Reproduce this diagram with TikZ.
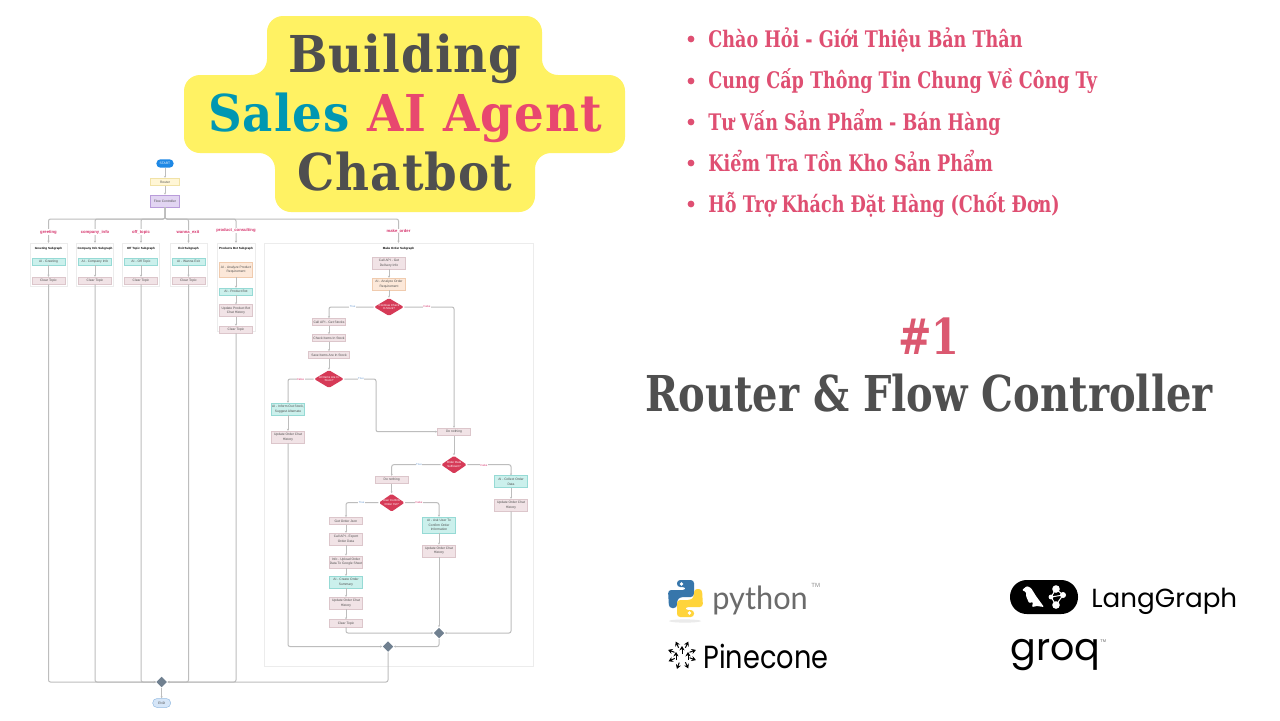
\documentclass[tikz,border=0pt]{standalone}
\usepackage{fontspec}
\setmainfont{Liberation Serif}
\setsansfont{Liberation Sans}
\newfontfamily\bannerfont[FakeStretch=.92,LetterSpace=2]{DejaVu Serif Bold}
\newfontfamily\listfont[FakeStretch=.77]{DejaVu Serif Bold}
\newfontfamily\topicfont[FakeStretch=.81]{DejaVu Serif Bold}
\newfontfamily\logofont{Poppins}
\newfontfamily\pinefont[FakeStretch=.85]{Poppins}
\newfontfamily\thinfont[FakeStretch=.96]{Lato}
\usetikzlibrary{positioning,shapes.geometric,calc,arrows.meta}

\definecolor{banner}{HTML}{FFF263}
\definecolor{inkgray}{HTML}{4F4F4F}
\definecolor{tealword}{HTML}{0097B2}
\definecolor{pinkword}{HTML}{E8486F}
\definecolor{listpink}{HTML}{DF4F72}
\definecolor{numpink}{HTML}{DB5870}
\definecolor{wirecol}{HTML}{BDBDBD}
\definecolor{subline}{HTML}{ECECEC}
\definecolor{plainfill}{HTML}{F1E3E6}
\definecolor{plainline}{HTML}{DCC6CB}
\definecolor{aifill}{HTML}{CBF0EC}
\definecolor{ailine}{HTML}{96DAD5}
\definecolor{peachfill}{HTML}{FCE8D9}
\definecolor{peachline}{HTML}{F0CBAE}
\definecolor{checkred}{HTML}{D63A57}
\definecolor{mergefill}{HTML}{708090}
\definecolor{routepink}{HTML}{D6336C}
\definecolor{truecol}{HTML}{6C9BD2}
\definecolor{startblue}{HTML}{1E88E5}
\definecolor{endfill}{HTML}{D6E6F8}
\definecolor{endline}{HTML}{96BCE2}
\definecolor{yellowbox}{HTML}{FFF6D6}
\definecolor{yellowline}{HTML}{F1E2A6}
\definecolor{violetfill}{HTML}{E2D5F2}
\definecolor{violetline}{HTML}{B99CDA}
\definecolor{pyblue}{HTML}{3776AB}
\definecolor{pyyellow}{HTML}{FFD43B}

\newcommand{\tinytext}{\sffamily\fontsize{1.65}{2.2}\selectfont}
\tikzset{
	wire/.style={color=wirecol, line width=.5pt, rounded corners=1pt, -{Stealth[length=1pt,width=1pt]}},
	subbox/.style 2 args={rectangle, draw=subline, fill=white, line width=.25pt, minimum width=#1, minimum height=#2, inner sep=0pt},
	subtitle/.style={font=\sffamily\bfseries\fontsize{1.5}{2}\selectfont, text=black, inner sep=0pt},
	stepbox/.style={rectangle, draw=plainline, fill=plainfill, line width=.25pt, text=inkgray, font=\tinytext, align=center, minimum width=16.5pt, minimum height=#1, inner sep=0pt},
	stepbox/.default=3.6pt,
	aibox/.style={stepbox=#1, draw=ailine, fill=aifill},
	aibox/.default=3.6pt,
	peachbox/.style={stepbox=#1, draw=peachline, fill=peachfill},
	check/.style={diamond, fill=checkred, text=white, font=\sffamily\fontsize{1.45}{1.9}\selectfont, align=center, minimum width=#1, minimum height=9pt, inner xsep=-3pt, inner ysep=-1pt, rounded corners=.7pt},
	merge/.style={diamond, fill=mergefill, minimum size=5.4pt, inner sep=0pt},
	route/.style={font=\sffamily\bfseries\fontsize{2.1}{2.5}\selectfont, text=routepink, fill=white, inner sep=.3pt},
	yeslab/.style={font=\sffamily\fontsize{1.4}{1.8}\selectfont, text=truecol, fill=white, inner sep=.2pt},
	nolab/.style={font=\sffamily\fontsize{1.4}{1.8}\selectfont, text=routepink, fill=white, inner sep=.2pt},
	listitem/.style={anchor=base west, font=\listfont\fontsize{11.4}{14}\selectfont, text=listpink, inner sep=0pt},
	dot/.style={circle, fill=listpink, minimum size=3.4pt, inner sep=0pt},
	logotext/.style={anchor=base west, inner sep=0pt},
}

\begin{document}
\begin{tikzpicture}[x=.5pt, y=-.5pt, on grid, node distance=10pt]
	\useasboundingbox (0,0) rectangle (1280,720);
	\fill[white] (0,0) rectangle (1280,720);

	% banner
	\fill[banner, rounded corners=8pt] (267,16) -- (542,16) -- (542,75) -- (625,75) -- (625,153) -- (535,153) -- (535,212) -- (275,212) -- (275,153) -- (184,153) -- (184,75) -- (267,75) -- cycle;
	\node[anchor=base, inner sep=0pt, font=\bannerfont\fontsize{25.4}{30}\selectfont, text=inkgray] (t_building) at (405,72) {Building};
	\node[anchor=base, inner sep=0pt, font=\bannerfont\fontsize{25.4}{30}\selectfont] (t_sales) at (405,131) {\textcolor{tealword}{Sales} \textcolor{pinkword}{AI Agent}};
	\node[anchor=base, inner sep=0pt, font=\bannerfont\fontsize{25.4}{30}\selectfont, text=inkgray] (t_chatbot) at (405,190) {Chatbot};

	% right side
	\node[dot] (d_1) at (691,39) {};
	\node[dot] (d_2) at (691,81) {};
	\node[dot] (d_3) at (691,122) {};
	\node[dot] (d_4) at (691,163) {};
	\node[dot] (d_5) at (691,204) {};
	\node[listitem] (i_1) at (708,47) {Chào Hỏi - Giới Thiệu Bản Thân};
	\node[listitem] (i_2) at (708,88) {Cung Cấp Thông Tin Chung Về Công Ty};
	\node[listitem] (i_3) at (708,130) {Tư Vấn Sản Phẩm - Bán Hàng};
	\node[listitem] (i_4) at (708,171) {Kiểm Tra Tồn Kho Sản Phẩm};
	\node[listitem] (i_5) at (708,212) {Hỗ Trợ Khách Đặt Hàng (Chốt Đơn)};
	\node[anchor=base, inner sep=0pt, font=\topicfont\fontsize{24.7}{30}\selectfont, text=numpink] (t_num) at (929,354) {\#1};
	\node[anchor=base, inner sep=0pt, font=\topicfont\fontsize{24.7}{30}\selectfont, text=inkgray] (t_topic) at (929,411) {Router \& Flow Controller};

	% python logo
	\fill[black!8] (685,621) ellipse (8pt and .8pt);
	\fill[pyblue, rounded corners=1.6pt] (677,580) -- (694,580) -- (694,597) -- (680,597) -- (677,600) -- (677,608) -- (669,608) -- (668,590) -- (686,590) -- (686,587) -- (677,587) -- cycle;
	\fill[pyyellow, rounded corners=1.6pt] (694,617) -- (677,617) -- (677,600) -- (691,600) -- (694,597) -- (694,589) -- (702,589) -- (703,607) -- (685,607) -- (685,610) -- (694,610) -- cycle;
	\fill[white] (681.5,584) circle (.9pt) (689.5,613) circle (.9pt);
	\node[logotext, font=\thinfont\fontsize{16}{20}\selectfont, text=black!58] (l_python) at (712,609) {python};
	\node[logotext, font=\sffamily\fontsize{3}{4}\selectfont, text=black!45] (l_pytm) at (811,587) {TM};

	% pinecone logo
	\foreach \a in {20,65,115,160,205,250,295,340}
		\draw[-{Stealth[length=2.2pt,width=2.6pt]}, line width=.5pt] ($(682,655)+(\a:4pt)$) -- ($(682,655)+(\a:7.4pt)$);
	\foreach \p in {(682,654),(676,660),(688,660)}
		\draw[-{Stealth[length=2.2pt,width=2.6pt]}, line width=.5pt] \p -- ++(0,-8);
	\node[logotext, font=\pinefont\fontsize{16}{20}\selectfont] (l_pine) at (703,668) {Pinecone};

	% langgraph logo
	\fill[black, rounded corners=8.4pt] (1010,580) rectangle (1078,614);
	\fill[white, rounded corners=.5pt] (1022,590) -- (1027,586) -- (1031,588) -- (1036,596) -- (1044,607) -- (1037,606) -- (1032,607) -- (1033,602) -- (1029,603) -- (1026,596) -- (1026,592) -- cycle;
	\draw[white, line width=.5pt] (1056,589) -- (1063,595) -- (1056,605) -- (1051,597) -- (1056,589) (1051,597) -- (1063,595);
	\fill[white] (1056,589) circle (1.9pt) (1056,605) circle (1.9pt) (1063,595) circle (1.5pt) (1051,597) circle (1.2pt);
	\node[logotext, font=\logofont\fontsize{13.1}{16}\selectfont] (l_lang) at (1091,607) {LangGraph};

	% groq logo
	\node[logotext, font=\logofont\fontsize{19}{22}\selectfont] (l_groq) at (1010,660) {groq};
	\node[logotext, font=\sffamily\fontsize{2}{3}\selectfont, text=black!60] (l_grtm) at (1100,642) {TM};

	% top of the flow
	\node[rectangle, rounded corners=2pt, fill=startblue, text=white, font=\tinytext, minimum width=8.6pt, minimum height=4.2pt, inner sep=0pt] (start) at (165,163.5) {START};
	\node[stepbox=3.8pt, draw=yellowline, fill=yellowbox, minimum width=14.5pt] (router) [below=9.2pt of start] {Router};
	\node[stepbox=6pt, draw=violetline, fill=violetfill, minimum width=14.5pt] (flow) [below=9.5pt of router] {Flow Controller};

	% subgraphs
	\node[subbox={18.5pt}{21.5pt}] (sub_greeting) at (48.5,264.5) {};
	\node[subbox={18.5pt}{21.5pt}] (sub_company) at (95,264.5) {};
	\node[subbox={18.5pt}{21.5pt}] (sub_offtopic) at (141,264.5) {};
	\node[subbox={18.5pt}{21.5pt}] (sub_exit) at (188.5,264.5) {};
	\node[subbox={19pt}{44pt}] (sub_products) at (236,287) {};
	\node[subbox={134.5pt}{211.5pt}] (sub_order) at (398.5,454.5) {};

	\node[subtitle] (t_greeting) [below=2pt of sub_greeting.north] {Greeting Subgraph};
	\node[subtitle] (t_company) [below=2pt of sub_company.north] {Company Info Subgraph};
	\node[subtitle] (t_offtopic) [below=2pt of sub_offtopic.north] {Off Topic Subgraph};
	\node[subtitle] (t_exit) [below=2pt of sub_exit.north] {Exit Subgraph};
	\node[subtitle] (t_products) [below=2pt of sub_products.north] {Products Bot Subgraph};
	\node[subtitle] (t_order) [below=2pt of sub_order.north] {Make Order Subgraph};

	\node[aibox] (ai_greeting) [below=7.5pt of sub_greeting.north] {AI - Greeting};
	\node[stepbox] (clear_greeting) [below=9.5pt of ai_greeting] {Clear Topic};
	\node[aibox] (ai_company) [below=7.5pt of sub_company.north] {AI - Company Info};
	\node[stepbox] (clear_company) [below=9.5pt of ai_company] {Clear Topic};
	\node[aibox] (ai_offtopic) [below=7.5pt of sub_offtopic.north] {AI - Off Topic};
	\node[stepbox] (clear_offtopic) [below=9.5pt of ai_offtopic] {Clear Topic};
	\node[aibox] (ai_exit) [below=7.5pt of sub_exit.north] {AI - Wanna Exit};
	\node[stepbox] (clear_exit) [below=9.5pt of ai_exit] {Clear Topic};

	\node[peachbox=7.6pt] (analyze_product) [below=9.5pt of sub_products.north] {AI - Analyze Product\\Requirement};
	\node[aibox] (ai_product) [below=11pt of analyze_product] {AI - Product Bot};
	\node[stepbox=6pt] (update_product) [below=9.5pt of ai_product] {Update Product Bot\\Chat History};
	\node[stepbox] (clear_product) [below=9.5pt of update_product] {Clear Topic};

	% make order subgraph
	\node[stepbox=6pt] (call_delivery) at (389,263) {Call API - Get\\Delivery Info};
	\node[peachbox=6pt] (analyze_order) [below=10.5pt of call_delivery] {AI - Analyze Order\\Requirement};
	\node[check=15pt] (check_stock) [below=11.5pt of analyze_order] {Continue Check\\In Stock?};
	\node[stepbox] (call_stocks) at (329,322) {Call API - Get Stocks};
	\node[stepbox] (check_items) [below=8pt of call_stocks] {Check Items In Stock};
	\node[stepbox, minimum width=20.5pt] (save_items) [below=8.5pt of check_items] {Save Items Are In Stock};
	\node[check=15pt] (check_all) [below=12pt of save_items] {All Items Are In\\Stock?};
	\node[aibox=6pt] (ai_inform) at (288,409) {AI - Inform Out Stock,\\Suggest Alternate};
	\node[stepbox=6pt] (update_inform) [below=14pt of ai_inform] {Update Order Chat\\History};
	\node[stepbox] (nothing_a) at (454,431.7) {Do nothing};
	\node[check=13pt] (check_data) [below=16.5pt of nothing_a] {Order Data\\Sufficient?};
	\node[stepbox] (nothing_b) at (391.7,479.7) {Do nothing};
	\node[check=13pt] (check_confirm) [below=11.5pt of nothing_b] {User Confirm\\Order Yet?};
	\node[aibox=6pt] (ai_collect) at (511,481.7) {AI - Collect Order\\Data};
	\node[stepbox=6pt] (update_collect) [below=11.7pt of ai_collect] {Update Order Chat\\History};
	\node[stepbox] (get_json) at (346,521) {Get Order Json};
	\node[stepbox=6pt] (call_export) [below=9pt of get_json] {Call API - Export\\Order Data};
	\node[stepbox=6pt] (info_upload) [below=11.4pt of call_export] {Info - Upload Order\\Data To Google Sheet};
	\node[aibox=6pt] (ai_summary) [below=10.2pt of info_upload] {AI - Create Order\\Summary};
	\node[stepbox=6pt] (update_summary) [below=10.5pt of ai_summary] {Update Order Chat\\History};
	\node[stepbox] (clear_order) [below=10pt of update_summary] {Clear Topic};
	\node[aibox=8pt] (ai_ask) at (439,525) {AI - Ask User To\\Confirm Order\\Information};
	\node[stepbox=6pt] (update_ask) [below=12.9pt of ai_ask] {Update Order Chat\\History};

	% merge points and end
	\node[merge] (merge_data) at (439,633) {};
	\node[merge] (merge_order) at (388,646.5) {};
	\node[merge] (merge_all) at (161.7,682) {};
	\node[rectangle, rounded corners=2.2pt, draw=endline, fill=endfill, line width=.25pt, text=inkgray, font=\tinytext, minimum width=9pt, minimum height=4.5pt, inner sep=0pt] (finish) [below=10.5pt of merge_all] {END};

	% bus points
	\coordinate (bus_greeting) at (48.5,219);
	\coordinate (bus_company) at (95,219);
	\coordinate (bus_offtopic) at (141,219);
	\coordinate (bus_exit) at (188.5,219);
	\coordinate (bus_products) at (236,219);
	\coordinate (bus_order) at (398.5,219);
	\coordinate (turn_all) at (376,431.7);

	\path[wire]
	(start) edge (router)
	(router) edge (flow)
	(ai_greeting) edge (clear_greeting)
	(ai_company) edge (clear_company)
	(ai_offtopic) edge (clear_offtopic)
	(ai_exit) edge (clear_exit)
	(analyze_product) edge (ai_product)
	(ai_product) edge (update_product)
	(update_product) edge (clear_product)
	(call_delivery) edge (analyze_order)
	(analyze_order) edge (check_stock)
	(call_stocks) edge (check_items)
	(check_items) edge (save_items)
	(save_items) edge (check_all)
	(ai_inform) edge (update_inform)
	(nothing_a) edge (check_data)
	(nothing_b) edge (check_confirm)
	(ai_collect) edge (update_collect)
	(get_json) edge (call_export)
	(call_export) edge (info_upload)
	(info_upload) edge (ai_summary)
	(ai_summary) edge (update_summary)
	(update_summary) edge (clear_order)
	(ai_ask) edge (update_ask)
	(merge_all) edge (finish)
	;

	\draw[wire] (flow) |- (bus_greeting) -- (sub_greeting);
	\draw[wire] (flow) |- (bus_company) -- (sub_company);
	\draw[wire] (flow) |- (bus_offtopic) -- (sub_offtopic);
	\draw[wire] (flow) |- (bus_exit) -- (sub_exit);
	\draw[wire] (flow) |- (bus_products) -- (sub_products);
	\draw[wire] (flow) |- (bus_order) -- (sub_order);

	\draw[wire] (clear_greeting) |- (merge_all);
	\draw[wire] (clear_company) |- (merge_all);
	\draw[wire] (clear_offtopic) |- (merge_all);
	\draw[wire] (clear_exit) |- (merge_all);
	\draw[wire] (clear_product) |- (merge_all);
	\draw[wire] (merge_order) |- (merge_all);

	\draw[wire] (check_stock) -| (call_stocks);
	\draw[wire] (check_stock) -| (nothing_a);
	\draw[wire] (check_all) -| (ai_inform);
	\draw[wire] (check_all) -| (turn_all) -- (nothing_a);
	\draw[wire] (check_data) -| (nothing_b);
	\draw[wire] (check_data) -| (ai_collect);
	\draw[wire] (check_confirm) -| (get_json);
	\draw[wire] (check_confirm) -| (ai_ask);
	\draw[wire] (clear_order) |- (merge_data);
	\draw[wire] (update_ask) -- (merge_data);
	\draw[wire] (update_collect) |- (merge_data);
	\draw[wire] (merge_data) |- (merge_order);
	\draw[wire] (update_inform) |- (merge_order);

	% labels on the connectors
	\node[route] (r_greeting) at (48.5,232) {greeting};
	\node[route] (r_company) at (95,232) {company\_info};
	\node[route] (r_offtopic) at (141,232) {off\_topic};
	\node[route] (r_exit) at (188,232) {wanna\_exit};
	\node[route] (r_products) at (236,230.7) {product\_consulting};
	\node[route] (r_order) at (398.5,231) {make\_order};

	\node[yeslab] (y_stock) at (352.7,306.7) {True};
	\node[nolab] (n_stock) at (427,306.7) {False};
	\node[nolab] (n_all) at (300.7,379) {False};
	\node[yeslab] (y_all) at (361,379) {True};
	\node[yeslab] (y_data) at (419,465) {True};
	\node[nolab] (n_data) at (484,465) {False};
	\node[yeslab] (y_confirm) at (361.7,502.7) {True};
	\node[nolab] (n_confirm) at (419,502.7) {False};
\end{tikzpicture}
\end{document}
